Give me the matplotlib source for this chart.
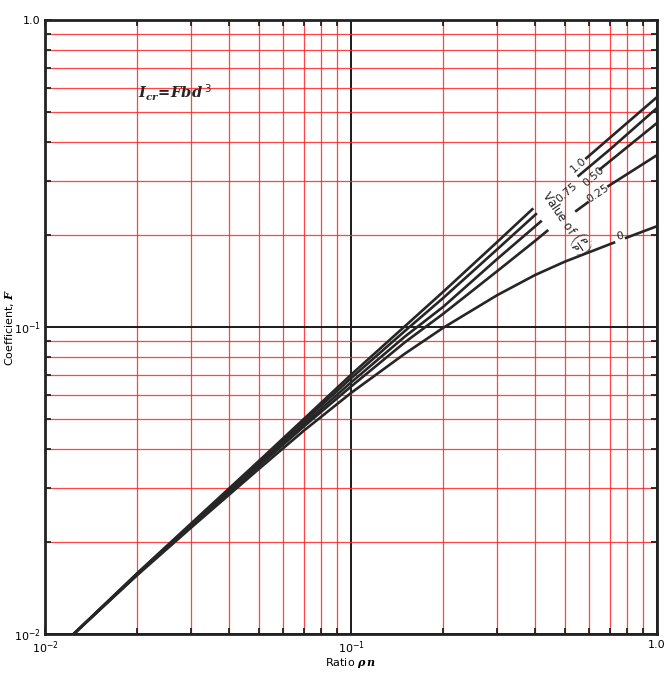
import matplotlib
matplotlib.use('Agg')
import matplotlib.pyplot as plt
import numpy as np
from matplotlib.ticker import LogLocator, FixedLocator, NullFormatter

nan = np.nan

# Curves: coefficient F vs ratio rho*n, one per rho'/rho
# (nan breaks the line where the label sits)
rho_n_r100 = [0.0124, 0.02, 0.03, 0.05, 0.07, 0.1, 0.15, 0.2, 0.3, 0.394, nan, 0.583, 0.7, 1.0]
F_r100 = [0.0100, 0.01577, 0.0229, 0.03663, 0.0501, 0.0699, 0.1006, 0.1302, 0.189, 0.2435, nan, 0.3525, 0.4127, 0.561]

rho_n_r075 = [0.0124, 0.02, 0.03, 0.05, 0.07, 0.1, 0.15, 0.2, 0.3, 0.405, nan, 0.55, 0.7, 1.0]
F_r075 = [0.0100, 0.01572, 0.02277, 0.03617, 0.0492, 0.0681, 0.0971, 0.1243, 0.1789, 0.2347, nan, 0.309, 0.378, 0.517]

rho_n_r050 = [0.0124, 0.02, 0.03, 0.05, 0.07, 0.1, 0.15, 0.2, 0.3, 0.42, nan, 0.646, 1.0]
F_r050 = [0.0100, 0.01567, 0.0226, 0.03566, 0.04816, 0.066, 0.0931, 0.1163, 0.1664, 0.222, nan, 0.3246, 0.462]

rho_n_r025 = [0.0124, 0.02, 0.03, 0.05, 0.07, 0.1, 0.15, 0.2, 0.3, 0.4, 0.441, nan, 0.540, 0.598, nan, 0.688, 1.0]
F_r025 = [0.0100, 0.0156, 0.02243, 0.03524, 0.04736, 0.0640, 0.0892, 0.1104, 0.1519, 0.1910, 0.207, nan, 0.2375, 0.2559, nan, 0.2864, 0.363]

rho_n_r000 = [0.0124, 0.02, 0.03, 0.05, 0.07, 0.1, 0.15, 0.2, 0.3, 0.4, 0.5, 0.73, nan, 0.785, 1.0]
F_r000 = [0.0100, 0.01555, 0.0222, 0.0345, 0.0459, 0.0610, 0.0819, 0.0994, 0.1269, 0.1478, 0.1633, 0.1890, nan, 0.1945, 0.213]

curve_labels = ['1.0', '0.75', '0.50', '0.25', '0']
label_rho_n = [0.555, 0.508, 0.618, 0.640, 0.757]
label_F = [0.336, 0.274, 0.309, 0.272, 0.1975]
label_rot = [41, 41, 41, 34, 14]

x_ticks = [0.01, 0.1, 1.0]
x_ticklabels = ['$10^{-2}$', '$10^{-1}$', '1.0']
y_ticks = [0.01, 0.1, 1.0]
y_ticklabels = ['$10^{-2}$', '$10^{-1}$', '1.0']

line_color = '#262626'
grid_red = '#ff2424'

plt.rcParams['mathtext.fontset'] = 'custom'
plt.rcParams['mathtext.rm'] = 'DejaVu Sans'
plt.rcParams['mathtext.it'] = 'DejaVu Serif:italic:bold'
plt.rcParams['mathtext.bf'] = 'DejaVu Serif:bold'

fig = plt.figure(figsize=(6.68, 6.73), dpi=100)
ax = fig.add_axes([0.0674, 0.0579, 0.9162, 0.9124])
ax.set_xscale('log')
ax.set_yscale('log')
ax.set_xlim(0.01, 1.0)
ax.set_ylim(0.01, 1.0)

# red minor grid, black decade grid
ax.xaxis.set_major_locator(FixedLocator(x_ticks))
ax.yaxis.set_major_locator(FixedLocator(y_ticks))
ax.xaxis.set_minor_locator(LogLocator(base=10, subs=np.arange(2, 10)))
ax.yaxis.set_minor_locator(LogLocator(base=10, subs=np.arange(2, 10)))
ax.xaxis.set_minor_formatter(NullFormatter())
ax.yaxis.set_minor_formatter(NullFormatter())
ax.set_xticklabels(x_ticklabels)
ax.set_yticklabels(y_ticklabels)
ax.grid(which='minor', color=grid_red, linewidth=0.9, alpha=0.85)
ax.grid(which='major', color='#1a1a1a', linewidth=1.4)
ax.set_axisbelow(True)

ax.tick_params(which='both', direction='in', top=True, right=True, color='#222222')
ax.tick_params(which='minor', length=4, width=1.3)
ax.tick_params(which='major', length=5, width=1.3, labelsize=8)
ax.tick_params(axis='x', which='major', pad=4)
ax.tick_params(axis='y', which='major', pad=3)
for sp in ax.spines.values():
    sp.set_linewidth(2.0)
    sp.set_color('#222222')

# curves
for xs, fs in [(rho_n_r100, F_r100), (rho_n_r075, F_r075), (rho_n_r050, F_r050),
               (rho_n_r025, F_r025), (rho_n_r000, F_r000)]:
    ax.plot(xs, fs, color=line_color, linewidth=1.9, solid_capstyle='butt', zorder=3)

# inline labels for rho'/rho values
for lab, lx, ly, rot in zip(curve_labels, label_rho_n, label_F, label_rot):
    ax.text(lx, ly, lab, fontsize=8, color=line_color, rotation=rot,
            ha='center', va='center', rotation_mode='anchor', zorder=4)

ax.text(0.505, 0.218, r"Value of $\left(\frac{\rho'}{\rho}\right)$", fontsize=8.5,
        color=line_color, rotation=-56, ha='center', va='center',
        rotation_mode='anchor', zorder=4)

ax.text(0.0201, 0.578, r'$I_{cr}\!\mathbf{=}\!Fbd^{\,3}$', fontsize=10.5,
        color=line_color, ha='left', va='center')

ax.set_xlabel(r'Ratio $\rho\,n$', fontsize=8)
ax.set_ylabel(r'Coefficient, $F$', fontsize=8)
ax.xaxis.label.set_va('center')
ax.yaxis.label.set_va('center')
ax.xaxis.set_label_coords(0.5, -0.047)
ax.yaxis.set_label_coords(-0.058, 0.5)

fig.savefig('out.png', dpi=100)
